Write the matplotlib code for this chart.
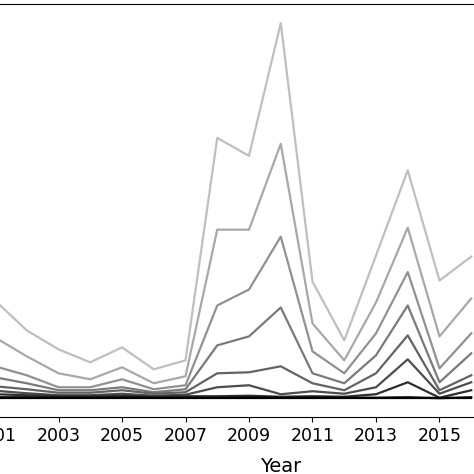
import matplotlib
matplotlib.use('Agg')
import matplotlib.pyplot as plt

years = list(range(2001, 2017))

# series from the top (light) curve down to the bottom (black) one
s1 = [98, 68, 49, 36, 51, 29, 38, 261, 243, 376, 117, 58, 143, 228.5, 118, 142]
s2 = [61, 42, 25, 19, 31, 15, 22, 169, 169, 255, 75, 38, 96, 171, 62, 100]
s3 = [32, 23, 11, 11, 19, 9, 13, 93, 109, 162, 47, 25, 65, 126.5, 30, 65]
s4 = [21, 15, 8, 8, 11, 6, 9, 53, 62, 91, 25, 15, 43, 93, 16, 45]
s5 = [12, 9, 5.5, 5.5, 8, 4.5, 6, 25, 26, 32, 15, 8, 25, 63, 8, 23]
s6 = [7.5, 5, 3, 3, 4.5, 2.5, 3.5, 11, 13, 4, 7, 4.5, 11, 39, 4.5, 16]
s7 = [4, 3, 2, 2, 2.5, 1.5, 2, 2, 2.5, 1.5, 2, 1.5, 4, 16, 0.5, 8]
s8 = [1, 1, 0.5, 0.5, 1, 0.5, 0.5, 0.5, 1, 0.5, 1, 0.5, 0.5, 1, 0, 1]
s9 = [0, 0, 0, 0, 0, 0, 0, 0, 0, 0, 0, 0, 0, 0, 0, 0]

series = [s1, s2, s3, s4, s5, s6, s7, s8, s9]
greys = ['0.75', '0.66', '0.57', '0.48', '0.39', '0.30', '0.18', '0.08', '0.0']

xticks = list(range(1999, 2022, 2))

fig = plt.figure(figsize=(4.74, 4.74), dpi=100)
ax = fig.add_axes([-0.1445, 0.1203, 1.4736, 0.8703])

for vals, c in zip(series, greys):
    ax.plot(years, vals, color=c, linewidth=1.6)

ax.set_xlim(1999, 2021)
ax.set_xticks(xticks)
ax.tick_params(axis='x', labelsize=12.5)
ax.set_yticks([])
ax.set_xlabel('Year', fontsize=14, labelpad=9)

fig.savefig('out.png', dpi=100)
